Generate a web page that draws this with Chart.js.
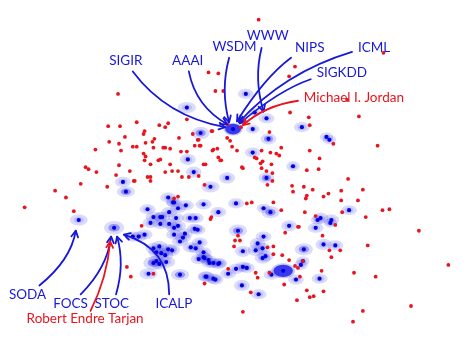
<!DOCTYPE html>
<html>
<head>
<meta charset="utf-8">
<script src="https://cdn.jsdelivr.net/npm/chart.js@4.4.1/dist/chart.umd.min.js"></script>
<style>
  html, body { margin: 0; padding: 0; background: #fff; }
  #wrap { width: 474px; height: 353px; }
</style>
</head>
<body>
<div id="wrap"><canvas id="embed"></canvas></div>
<script>
/* authors (red) — 2D embedding coordinates */
const authors = [
  [259,16],[386,50],[208,70],[218,71],[296,64],[290,74],[215,89],[223,89],[116,92],[349,98],
  [291,111],[310,116],[361,115],[311,124],[186,118],[106,125],[118,125],[135,121],[158,124],[164,126],
  [167,122],[143,130],[142,133],[123,136],[153,138],[151,141],[178,137],[192,133],[212,130],[107,141],
  [117,143],[144,142],[197,139],[194,145],[199,145],[93,149],[119,150],[131,146],[135,146],[152,147],
  [162,147],[164,147],[169,148],[180,151],[186,151],[217,148],[213,149],[142,153],[144,156],[157,160],
  [159,159],[143,160],[149,164],[169,164],[117,165],[128,171],[83,167],[86,169],[94,172],[114,175],
  [132,181],[146,177],[149,181],[164,172],[171,171],[177,171],[181,177],[188,177],[218,157],[221,160],
  [203,164],[78,184],[105,187],[63,198],[52,191],[21,208],[71,212],[227,123],[211,130],[241,126],
  [227,137],[230,140],[232,146],[237,150],[198,139],[200,145],[212,150],[220,160],[205,164],[257,158],
  [262,150],[263,161],[271,152],[277,153],[280,155],[282,147],[272,164],[262,168],[267,171],[273,173],
  [243,168],[273,181],[268,185],[204,185],[198,176],[311,150],[321,158],[320,169],[308,170],[380,145],
  [335,143],[270,131],[255,157],[261,163],[242,167],[133,181],[149,177],[177,197],[210,220],[140,227],
  [125,269],[129,279],[152,276],[204,286],[293,186],[305,187],[314,190],[308,196],[325,197],[350,179],
  [343,191],[365,190],[294,192],[307,199],[330,194],[343,201],[360,201],[247,204],[252,203],[274,203],
  [282,211],[306,213],[344,213],[368,218],[385,211],[392,210],[422,232],[238,237],[235,242],[240,242],
  [234,248],[286,234],[299,228],[324,237],[268,249],[274,248],[274,256],[283,257],[331,252],[342,252],
  [333,259],[370,247],[290,262],[304,263],[296,268],[299,270],[323,273],[270,275],[256,275],[258,280],
  [285,287],[301,279],[356,275],[378,279],[452,267],[251,295],[325,294],[308,293],[315,299],[311,300],
  [298,303],[243,315],[365,314],[414,309],[355,325],[317,217],[337,226],[300,228],[228,271],[173,199],
  [211,218]
];

/* venues (blue): x, y, spread x, spread y, weight */
const venues = [
  [246,92,7,4.5,1],[186,106,8,5,1],[267,117,7,4.5,1],[255,111,5,3.5,1],[233,128,9,6,3],
  [200,132,8,5.5,2],[253,128,6,4,1],[269,138,7,5,2],[303,126,7,4.5,1],[328,136,6,4,1],
  [331,139,6,4,1],[187,159,7,5,1],[253,152,7,4.5,1],[193,172,7,5,1],[294,166,6,4.5,1],
  [121,182,7,4.5,1],[124,192,8,5,2],[227,178,7,5,1],[267,178,7,5,2],[210,187,8,5,1],
  [167,198,7,4.5,1],[203,205,7,4.5,1],[218,213,7,4.5,1],[236,204,7,4.5,1],[264,209,6,4,1],
  [271,213,8,5.5,2],[146,210,7,4.5,1],[173,203,7,4.5,1],[161,218,7,5,1],[152,218,7,5,1],
  [159,218,6,4,1],[168,213,7,4.5,1],[177,209,7,4.5,1],[185,206,7,4.5,1],[149,224,7,4.5,1],
  [159,225,7,4.5,1],[168,225,7,4.5,1],[173,229,7,4.5,1],[177,227,7,4.5,1],[182,239,7,4.5,1],
  [184,235,7,4.5,1],[179,243,7,4.5,1],[173,236,7,4.5,1],[189,219,7,4.5,1],[195,219,7,4.5,1],
  [194,230,7,4.5,1],[199,244,7,4.5,1],[190,249,7,4.5,1],[152,250,7,5,1],[155,254,7,5,1],
  [160,255,7,5,1],[167,251,8,5,1],[171,252,7,5,1],[158,248,7,5,1],[164,257,7,5,1],
  [155,263,7,5,1],[152,265,9,6,2],[158,266,7,5,1],[165,264,8,5,1],[147,276,8,5,1],
  [179,277,8,5,2],[203,259,7,4.5,1],[208,262,7,4.5,1],[213,265,7,4.5,1],[219,265,7,4.5,1],
  [205,279,7,4.5,1],[213,281,7,4.5,1],[228,276,7,4.5,1],[76,221,8,5,1],[112,229,9,6,2],
  [131,238,7,4.5,1],[137,238,7,4.5,1],[143,236,7,4.5,1],[197,231,7,4.5,1],[195,250,7,4.5,1],
  [203,254,7,4.5,1],[198,261,7,4.5,1],[204,260,7,4.5,1],[209,265,7,4.5,1],[218,266,7,4.5,1],
  [238,232,8,5.5,2],[264,238,7,4.5,1],[290,227,7,5,1],[317,229,7,4.5,1],[322,219,7,5,1],
  [319,221,6,4,1],[333,221,7,5,1],[332,224,6,4,1],[351,211,7,4.5,1],[243,253,7,5,1],
  [258,245,7,5,1],[263,250,7,5,1],[266,258,7,5,1],[263,260,7,5,1],[256,252,7,5,1],
  [305,251,8,5.5,2],[304,263,6,4,1],[302,267,6,4.5,1],[243,269,7,4.5,1],[247,270,7,4.5,1],
  [236,271,7,4.5,1],[206,279,7,4.5,1],[215,282,7,4.5,1],[242,288,7,5,1],[259,297,7,4.5,1],
  [284,273,11,7,3],[272,277,7,4.5,1],[297,282,7,4.5,1],[321,281,7,4.5,1],[325,246,7,5,1],
  [337,247,7,4.5,1],[172,203,6,4,1],[175,219,7,4.5,1]
];

/* labelled arrows: text, label anchor, arrow start, bend, target */
const BLUE = '#1818d8', RED = '#e8141e';
const callouts = [
  { text: 'SIGIR',  at: [107,62], from: [131,69], via: [165,115], to: [225,126], color: BLUE },
  { text: 'AAAI',   at: [171,62], from: [188,69], via: [195,105], to: [227,123], color: BLUE },
  { text: 'WSDM',   at: [212,48], from: [229,55], via: [220,88],  to: [229,121], color: BLUE },
  { text: 'WWW',    at: [247,37], from: [262,45], via: [254,77],  to: [264,110], color: BLUE },
  { text: 'NIPS',   at: [296,49], from: [292,55], via: [265,75],  to: [237,120], color: BLUE },
  { text: 'ICML',   at: [360,49], from: [354,49], via: [285,70],  to: [239,121], color: BLUE },
  { text: 'SIGKDD', at: [318,75], from: [312,77], via: [280,88],  to: [240,122], color: BLUE },
  { text: 'Michael I. Jordan', at: [305,100], from: [299,99], via: [265,104], to: [243,124], color: RED },
  { text: 'SODA',   at: [5,302],   from: [36,288],  via: [68,262],  to: [73,232],  color: BLUE },
  { text: 'FOCS',   at: [50,311],  from: [78,297],  via: [105,270], to: [109,238], color: BLUE },
  { text: 'STOC',   at: [92,311],  from: [114,297], via: [123,266], to: [115,238], color: BLUE },
  { text: 'ICALP',  at: [154,311], from: [168,297], via: [168,250], to: [122,236], color: BLUE },
  { text: 'Robert Endre Tarjan', at: [23,326], from: [88,314], via: [105,280], to: [108,243], color: RED }
];

// ellipses around venues, drawn under the dots
const venueShade = {
  id: 'venueShade',
  beforeDatasetsDraw(chart) {
    const { ctx, scales: { x, y } } = chart;
    const blob = (cx, cy, rx, ry, fill) => {
      ctx.beginPath();
      ctx.ellipse(cx, cy, rx, ry, 0, 0, Math.PI * 2);
      ctx.fillStyle = fill;
      ctx.fill();
    };
    ctx.save();
    venues.forEach(([vx, vy, sx, sy, w]) => {
      const cx = x.getPixelForValue(vx), cy = y.getPixelForValue(vy);
      const rx = Math.abs(x.getPixelForValue(vx + sx) - cx);
      const ry = Math.abs(y.getPixelForValue(vy + sy) - cy);
      if (w === 3) {
        blob(cx, cy, rx * 1.1, ry * 1.1, 'rgba(40,40,230,0.25)');
        blob(cx, cy, rx * 0.9, ry * 0.9, 'rgba(20,20,235,0.8)');
        return;
      }
      blob(cx, cy, rx * 1.15, ry * 1.15, 'rgba(40,40,230,0.17)');
      blob(cx, cy, rx * 0.65, ry * 0.65, 'rgba(40,40,230,' + (w === 2 ? 0.4 : 0.15) + ')');
    });
    ctx.restore();
  }
};

// curved arrows + their labels
const callout = {
  id: 'callout',
  afterDatasetsDraw(chart) {
    const { ctx, scales: { x, y } } = chart;
    const px = p => [x.getPixelForValue(p[0]), y.getPixelForValue(p[1])];
    ctx.save();
    callouts.forEach(c => {
      const [x0, y0] = px(c.from), [x1, y1] = px(c.via), [x2, y2] = px(c.to);
      ctx.strokeStyle = c.color;
      ctx.lineWidth = 1.8;
      ctx.lineCap = 'round';
      ctx.lineJoin = 'round';
      ctx.beginPath();
      ctx.moveTo(x0, y0);
      ctx.quadraticCurveTo(x1, y1, x2, y2);
      ctx.stroke();
      // open arrow head
      const a = Math.atan2(y2 - y1, x2 - x1), L = 7, s = 0.5;
      ctx.beginPath();
      ctx.moveTo(x2 - L * Math.cos(a - s), y2 - L * Math.sin(a - s));
      ctx.lineTo(x2, y2);
      ctx.lineTo(x2 - L * Math.cos(a + s), y2 - L * Math.sin(a + s));
      ctx.stroke();

      const [tx, ty] = px(c.at);
      ctx.fillStyle = c.color;
      ctx.font = '13.5px Lato, "Liberation Sans", sans-serif';
      ctx.textBaseline = 'alphabetic';
      ctx.fillText(c.text, tx, ty);
    });
    ctx.restore();
  }
};

new Chart(document.getElementById('embed'), {
  type: 'scatter',
  data: {
    datasets: [
      {
        label: 'venues',
        data: venues.map(v => ({ x: v[0], y: v[1] })),
        backgroundColor: '#0000e0',
        borderWidth: 0,
        pointRadius: 2.1,
        order: 1
      },
      {
        label: 'authors',
        data: authors.map(a => ({ x: a[0], y: a[1] })),
        backgroundColor: '#e8141e',
        borderWidth: 0,
        pointRadius: 1.9,
        order: 0
      }
    ]
  },
  options: {
    responsive: true,
    maintainAspectRatio: false,
    animation: false,
    layout: { padding: 0 },
    plugins: { legend: { display: false }, tooltip: { enabled: false } },
    scales: {
      x: { type: 'linear', min: 0, max: 474, display: false },
      y: { type: 'linear', min: 0, max: 353, reverse: true, display: false }
    }
  },
  plugins: [venueShade, callout]
});
</script>
</body>
</html>
